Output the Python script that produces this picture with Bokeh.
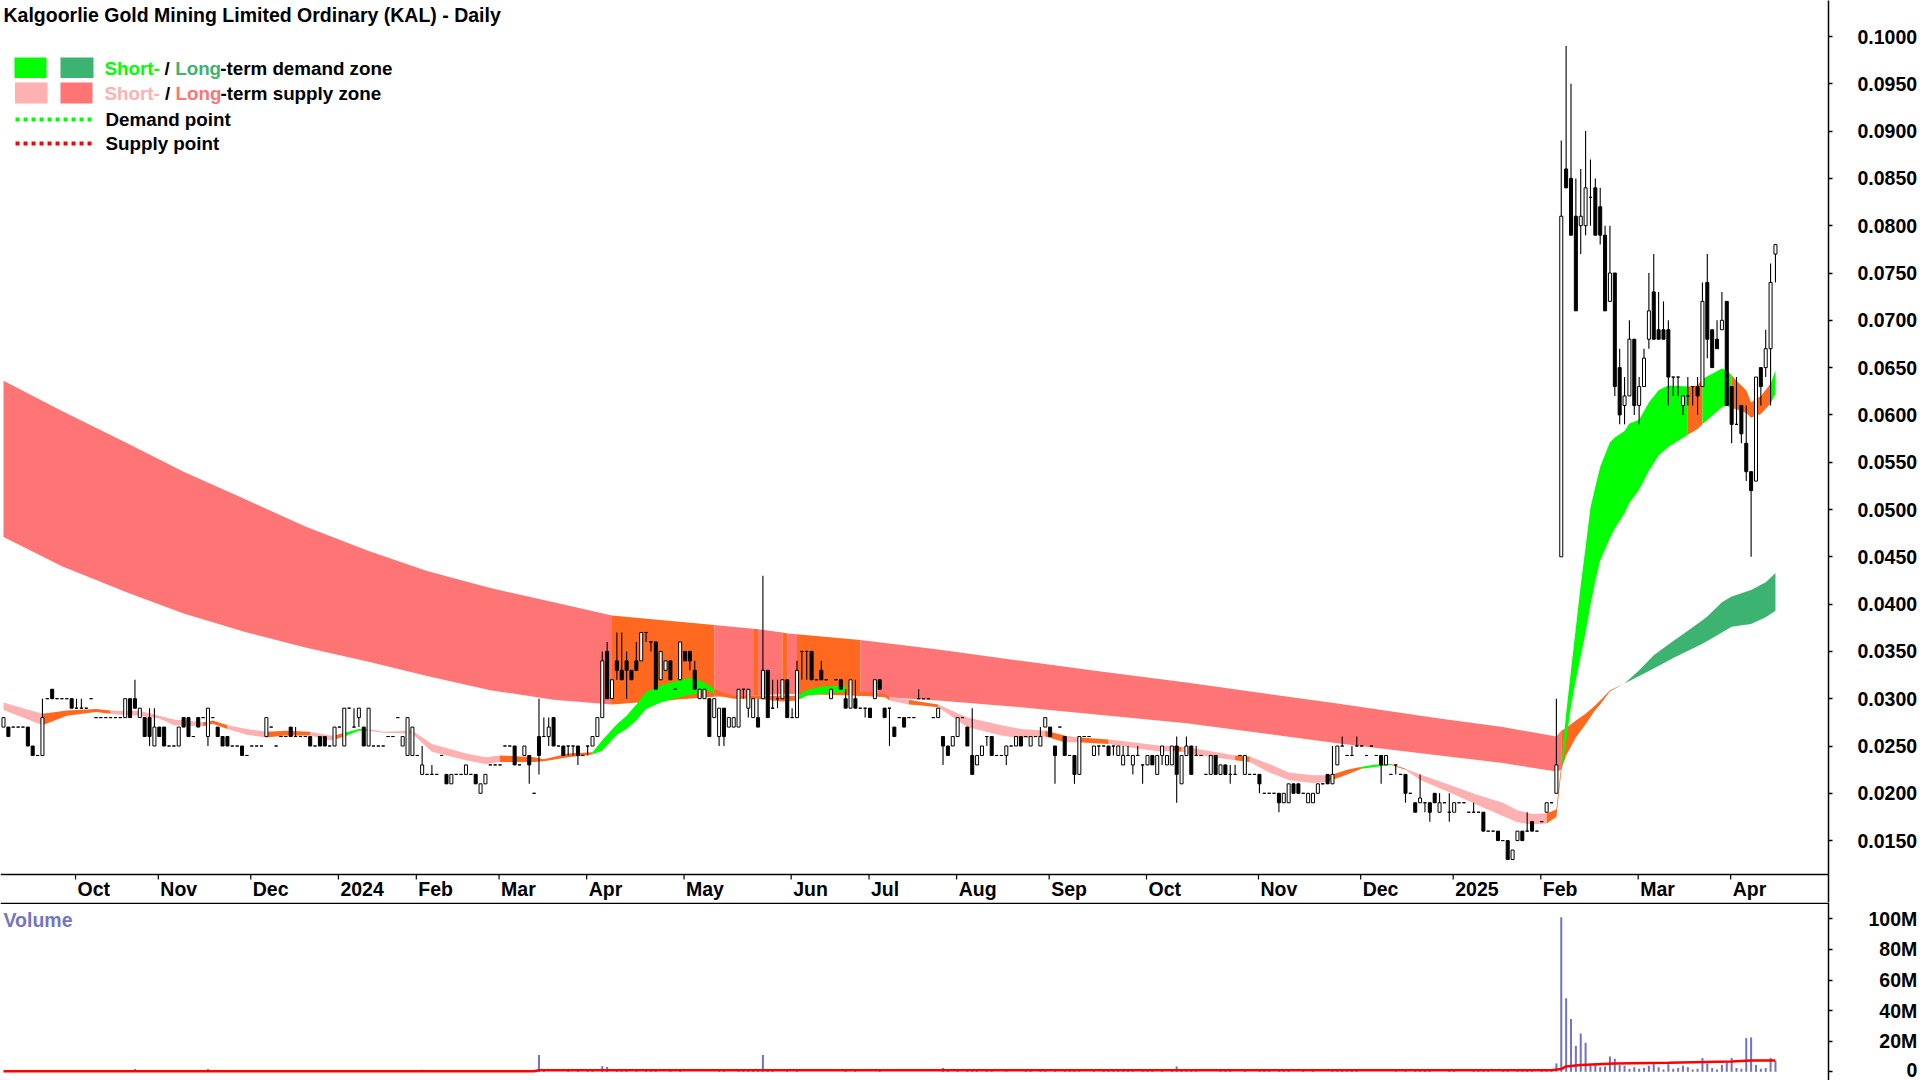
from bokeh.core.properties import value
from bokeh.embed import file_html
from bokeh.layouts import column
from bokeh.models import (BoxAnnotation, ColumnDataSource, FixedTicker, Label, LabelSet,
                          NumeralTickFormatter, Range1d, Span)
from bokeh.plotting import figure
from bokeh.resources import INLINE

TITLE = "Kalgoorlie Gold Mining Limited Ordinary (KAL) - Daily"

# Daily bars, prices in tenths of a cent (27 = $0.027)
opens = [
 27,27,27,27,27,27,25,24,24,30,
 31,30,30,30,30,29,29,29,30,28,
 28,28,28,28,28,28,30,30,28,28,
 28,25,27,27,25,25,25,28,28,26,
 28,28,26,28,27,26,26,25,25,25,
 24,25,25,25,26,27,25,26,26,27,
 26,26,26,26,25,26,26,25,25,27,
 25,29,27,28,27,25,25,25,25,26,
 26,28,25,24,24,24,22,22,22,22,
 24,22,21,22,22,22,22,22,20,21,
 23,23,23,25,25,25,23,24,24,20,
 26,26,26,28,25,25,25,25,25,24,
 25,25,26,28,35,30,34,33,34,33,
 34,34,37,36,36,32,33,34,31,32,
 35,35,33,30,30,30,28,26,29,27,
 27,27,31,29,28,28,30,33,29,30,
 30,32,28,28,35,35,35,32,33,32,
 30,32,32,30,29,30,29,29,29,30,
 32,29,29,27,28,28,28,28,30,30,
 30,28,28,26,25,25,26,28,27,24,
 23,24,26,26,24,24,24,25,25,26,
 26,25,26,25,27,27,25,27,26,24,
 24,22,26,26,24,25,25,25,25,24,
 23,24,23,24,23,23,24,22,24,23,
 23,25,21,24,25,24,24,22,22,24,
 22,23,22,22,24,22,22,22,22,20,
 20,20,20,19,19,21,21,20,19,19,
 20,21,22,21,23,25,24,24,25,25,
 24,25,24,24,23,22,23,22,22,20,
 19,19,19,19,20,18,19,18,18,19,
 19,18,18,18,18,16,16,16,15,15,
 13,15,16,16,17,16,17,18,19,20,
 45,86,85,81,80,80,83,84,82,79,
 72,75,65,61,62,68,61,63,68,73,
 69,69,69,64,64,61,62,63,63,63,
 74,69,68,69,72,63,59,61,57,54,
 53,65,65,67,77,
]
closes = [
 28,26,27,27,27,25,24,24,28,30,
 30,30,30,30,29,29,29,29,30,28,
 28,28,28,28,28,30,28,29,29,26,
 26,27,26,25,25,25,27,27,26,26,
 27,28,29,28,26,25,25,25,25,24,
 24,25,25,25,28,27,25,26,26,26,
 26,26,26,25,25,25,25,25,27,27,
 29,29,27,29,25,29,25,25,25,26,
 26,28,26,28,27,24,23,22,22,22,
 24,21,22,22,22,23,22,21,21,22,
 23,23,23,25,25,23,23,25,23,20,
 24,26,27,25,25,24,25,25,24,24,
 25,26,28,34,30,32,33,32,33,32,
 33,37,37,36,31,35,34,32,31,36,
 34,34,31,31,31,26,30,29,26,28,
 28,31,31,31,30,27,33,28,29,30,
 32,28,28,33,35,35,32,32,32,32,
 31,32,31,29,32,29,29,29,28,32,
 31,28,29,26,28,27,28,28,30,30,
 30,28,29,25,24,26,28,28,25,22,
 24,25,26,24,24,24,25,25,26,25,
 26,26,26,26,28,26,24,27,24,24,
 22,26,26,26,25,25,25,24,25,25,
 24,24,24,24,23,24,23,24,25,24,
 25,22,24,25,22,24,24,22,24,22,
 23,22,22,22,24,24,22,22,21,20,
 20,20,19,20,21,20,20,20,20,20,
 21,21,21,22,25,25,24,24,25,25,
 24,25,24,23,24,22,23,22,20,20,
 18,19.5,19,18,19,19,19,18,19,19,
 19,18,18,18,16,16,16,15,15,13,
 14,16,15,16,16,16,17,19,19,23,
 81,84,79,71,81,84,83,79,79,71,
 75,63,60,62,68,61,63,66,71,68,
 68,68,64,64,64,62,62,63,62,72,
 68,65,67,70,61,59,59,58,54,52,
 64,63,67,74,78,
]
# Wick ends that reach past the body, by bar number
high_wicks = {
 8:30,15:30,16:30,27:32,30:29,31:29,60:27,72:29,86:25,88:23,110:30,111:28,112:28,123:35,124:36,
 126:37,127:37,128:35,130:36,142:34,155:30,156:43,158:32,159:32,162:29,163:34,168:34,173:31,175:32,
 188:31,199:29,213:27,230:25,231:25,233:25,241:26,243:26,245:25,252:23,253:23,273:25,275:26,277:25,
 278:26,291:22,295:20,297:20,302:19,313:18,319:30,320:89,321:99,322:95,323:85,324:86,325:90,326:87,
 327:85,328:84,329:80,330:80,332:67,333:64,334:70,336:64,337:67,338:75,339:77,340:73,341:72,342:70,
 346:64,348:64,349:74,350:77,352:70,353:73,356:64,358:61,362:69,363:76,
}
low_wicks = {
 30:25,42:25,73:27,108:21,110:22,112:25,116:24,117:24,118:23,120:24,126:32,128:30,132:36,133:35,
 141:33,147:25,148:25,152:30,153:28,159:29,164:32,165:32,177:28,182:25,193:23,202:25,206:23,216:21,
 220:21,225:24,228:24,232:22,234:21,238:23,241:19,252:21,258:20,262:18,283:21,286:22,288:19,292:18,
 293:17,297:17,324:77,325:79,326:80,328:78,331:62,332:59,333:59,335:60,336:59,338:67,342:61,343:62,
 344:62,345:60,346:61,347:61,348:60,350:66,355:57,356:59,357:57,358:53,359:45,361:61,362:64,363:61,364:74,
}

# Long-term zone outline: bar number, upper and lower edge (tenths of a cent)
long_bars = [0,12,25,37,50,62,75,87,100,113,125,146,154,155,160,161,163,176,192,209,225,243,274,295,308,319,320,321,323,325,327,328,330,333,336,339,343,345,349,350,353,355,359,362,364]
long_top = [63.6,60.4,57.1,54,51,48.2,45.6,43.5,41.7,40.2,38.8,37.8,37.4,37.35,37,36.9,36.8,36.2,35.2,34,32.9,31.7,29.5,27.9,27,26,26.6,26.9,27.7,28.4,29.3,29.8,30.9,31.6,33,34.6,36.1,36.8,38.3,38.7,40.2,40.8,41.5,42.3,43.3]
long_bot = [47.1,44,41.3,39,37,35.4,33.9,32.4,30.9,29.9,29.4,30.2,30.3,30.3,30.5,30.5,30.5,30.3,29.8,29.1,28.3,27.4,25.3,24,23.2,22.3,22.5,24,25.9,27.3,28.8,29.4,30.8,31.6,32.4,33.2,34.3,34.8,35.8,36.1,37,37.6,37.9,38.6,39.3]
long_states = [(0,125,"supply"),(125,146,"overlap"),(146,154,"supply"),(154,155,"overlap"),(155,160,"supply"),(160,161,"overlap"),(161,163,"supply"),(163,176,"overlap"),(176,320,"supply"),(320,333,"overlap"),(333,364,"demand")]

# Short-term zone outline
short_bars = [0,4,8,13,19,22,24,28,32,35,41,43,46,50,54,58,63,67,68,70,73,75,78,84,88,95,99,102,106,109,111,116,121,123,126,128,130,132,135,140,142,145,146,150,155,160,163,165,168,173,175,177,181,182,186,188,192,198,205,209,214,218,221,224,227,232,238,240,242,243,253,256,260,264,269,272,273,276,279,282,285,288,291,297,303,308,311,314,317,319,320,321,322,323,324,325,326,327,328,330,331,333,334,336,338,340,342,346,348,349,353,354,355,356,358,359,361,363,364]
short_top = [29.6,29,28.4,28.76,28.9,28.76,28.7,28.7,28.2,27.8,27.5,27.7,27.2,26.8,26.5,26.6,26.5,26.1,26.1,26.4,26.8,26.8,26.5,26.6,25.2,24.2,23.8,24,23.9,23.8,23.6,24.2,24.35,25.6,27.3,28.2,29.4,30.7,31.4,32.1,32.2,31.4,31,30.3,30.3,30.3,30.3,30.9,31.3,31.4,30.6,30.7,30.5,30.2,29.9,29.7,29.4,28,27.2,26.8,26.6,26.1,25.9,25.8,25.7,25.4,25,25,24.9,24.9,24,23.9,23.1,22.2,21.9,21.9,22,22.5,22.8,23.05,23.1,22.6,22,20.9,19.8,19,18.2,17.8,17.9,18.3,23,28.4,33,37.5,42,46,50.2,52.4,54.5,57.1,57.6,58.3,59.1,59.5,61.3,62.6,63.1,63,63.1,63.8,64.9,64.7,64.2,63.6,62.6,61.3,62,63.3,64.7]
short_bot = [28.8,28,27.2,28.2,28.6,28.4,28.3,28.2,27.9,27.2,27.1,27.35,26.8,26.2,25.9,26.1,26.1,25.6,25.7,26,26.6,26.6,26.4,26.3,24.4,23.5,23.1,23.3,23.3,23.3,23.4,23.8,24.1,24.5,26.2,26.8,27.7,28.9,29.6,30.3,30.5,30.9,30.4,30,30,29.7,29.8,30.3,30.5,30.7,30.3,30.3,30.2,29.8,29.4,29.3,29.1,27,26.1,25.8,26,25.4,25.4,25.3,25.2,24.8,24.4,24.5,24.4,24.2,23.5,23.3,22.2,21.4,21.1,21.2,21.4,22,22.6,22.8,23,22.5,21.4,20.1,18.7,17.6,16.95,16.7,16.8,17.5,22.3,25.5,29.2,32,34.5,37,39.9,42.5,44.6,47,48,49.6,50.7,52.1,54.1,55.7,56.6,57.9,58.5,59,60.8,61,60.7,60.6,60.2,59.7,60.1,61.2,62.2]
short_states = [(0,8,"supply"),(8,22,"overlap"),(22,41,"supply"),(41,46,"overlap"),(46,54,"supply"),(54,63,"overlap"),(63,68,"supply"),(68,70,"overlap"),(70,75,"demand"),(75,102,"supply"),(102,121,"overlap"),(121,146,"demand"),(146,163,"overlap"),(163,173,"demand"),(173,182,"overlap"),(182,186,"supply"),(186,192,"overlap"),(192,214,"supply"),(214,218,"overlap"),(218,221,"supply"),(221,227,"overlap"),(227,240,"supply"),(240,242,"overlap"),(242,253,"supply"),(253,256,"overlap"),(256,272,"supply"),(272,279,"overlap"),(279,285,"demand"),(285,288,"overlap"),(288,317,"supply"),(317,320,"overlap"),(320,346,"demand"),(346,349,"overlap"),(349,355,"demand"),(355,363,"overlap"),(363,364,"demand")]

# Volume in millions, for the bars that rise clear of the average line
volume_bars = [4,5,8,13,27,28,30,31,42,44,45,48,54,59,63,68,86,91,107,109,110,111,116,118,120,121,123,124,126,127,128,130,132,133,134,137,139,147,148,151,152,153,154,155,156,157,158,161,163,173,175,180,193,194,196,198,199,200,202,203,206,210,211,213,214,216,218,219,220,221,224,226,227,228,229,230,231,232,234,235,236,238,240,241,242,243,244,245,250,251,252,255,258,259,260,262,263,264,267,269,273,274,275,276,277,278,286,288,290,291,292,293,297,298,302,303,304,305,308,309,311,312,313,314,316,317,318,319,320,321,322,323,324,325,326,327,328,329,330,331,332,333,334,335,336,337,338,339,340,341,342,343,344,345,346,347,348,349,350,351,352,353,354,355,356,357,358,359,360,361,362,363,364]
volume_m = [.8,.8,.8,1,1.8,.8,.8,1,1.8,.8,.8,.8,1,.8,.8,1,1.3,.8,.8,.6,11,1.7,1,1,1,1.3,3.7,3.2,1,1,1,1,1.2,1,1.3,1,1,1,1,1,1,1.8,1,1.2,11,1.3,1,1,1,.8,.8,.8,2.5,.8,.8,.8,1.2,.8,.8,.8,.8,.8,1.2,1,.8,1,.8,.8,1.2,1.8,.8,1.2,.9,1.2,1.2,.8,.8,.8,1.1,.8,.8,1,.8,3.5,1.2,1.2,.8,1.2,.8,.8,.8,.8,.8,.8,.8,1.2,.8,.8,.8,.8,1,.8,1.6,.8,.8,.8,.8,1.6,.8,.8,.8,.8,1.2,.8,.8,.8,1.2,1.2,1.2,1.2,1.2,.8,1.2,1.8,1.6,.8,.8,5.5,101,48,34.5,17,25,19,5,5.5,3,3.5,10,8.5,4.5,4,2,3,2,2.5,4,5,3,1.5,5,2,2.5,4,3,1.5,2,9,5.5,2.5,1.5,4.5,6,9,2.5,2,22,22.5,4.5,2,2.5,9,7]
average_bars = [0,109,110,318,320,321,324,331,342,355,359,364]
average_m = [.4,.4,1,1,1.8,3.5,4.5,5.5,5.9,6.7,7.4,7.4]

price_ticks = [0.015,0.02,0.025,0.03,0.035,0.04,0.045,0.05,0.055,0.06,0.065,0.07,0.075,0.08,0.085,0.09,0.095,0.1]
volume_ticks = [0,20,40,60,80,100]
volume_tick_labels = ["0","20M","40M","60M","80M","100M"]
month_bars = [15,32,51,69,85,102,120,140,162,178,196,215,235,258,279,298,316,336,355]
month_labels = ["Oct","Nov","Dec","2024","Feb","Mar","Apr","May","Jun","Jul","Aug","Sep","Oct","Nov","Dec","2025","Feb","Mar","Apr"]

# ---- style / layout
FONT = "Liberation Sans"
SIZE = "19.5px"
RED, PINK, GREEN, SEA, ORANGE = "#FF7575", "#FFB0B0", "#00FF00", "#3CB371", "#FF681F"
VOL = "#7474C4"
LONG_COL = {"supply": RED, "overlap": ORANGE, "demand": SEA}
SHORT_COL = {"supply": PINK, "overlap": ORANGE, "demand": GREEN}
STEP = 4.868          # pixels per bar
FIRST = 3.0           # pixel of bar 0
AXIS_X = 1828
PANEL_H = 902
MIL = 0.001

def x_at(px):
    return (px - FIRST) / STEP

def y_at(py):  # pixel row -> price
    return (100 - (py - 36) / 9.46) * MIL

x_range = Range1d(x_at(0), x_at(AXIS_X))
p = figure(width=1920, height=PANEL_H, x_range=x_range, y_range=Range1d(y_at(PANEL_H), y_at(0)),
           output_backend="svg", toolbar_location=None, x_axis_location=None, y_axis_location="right",
           min_border_left=0, min_border_top=0, min_border_bottom=0, min_border_right=92,
           outline_line_color=None, background_fill_color="white", border_fill_color="white")
p.grid.visible = False
ax = p.yaxis[0]
ax.ticker = FixedTicker(ticks=price_ticks)
ax.formatter = NumeralTickFormatter(format="0.0000")
ax.major_tick_in, ax.major_tick_out = 0, 4
ax.minor_tick_line_color = None
ax.major_label_standoff = 25
ax.axis_line_width = 1.5
ax.major_tick_line_width = 1.5
ax.major_label_text_font = FONT
ax.major_label_text_font_style = "bold"
ax.major_label_text_font_size = SIZE
ax.major_label_text_color = "black"

def draw_zone(bars, top, bot, states, cols):
    for start, end, state in states:
        keep = [i for i, b in enumerate(bars) if start <= b <= end]
        p.varea(x=[bars[i] for i in keep], y1=[top[i] * MIL for i in keep], y2=[bot[i] * MIL for i in keep],
                fill_color=cols[state])

draw_zone(long_bars, long_top, long_bot, long_states, LONG_COL)
draw_zone(short_bars, short_top, short_bot, short_states, SHORT_COL)

bars = list(range(len(opens)))
body_top = [max(o, c) * MIL for o, c in zip(opens, closes)]
body_bot = [min(o, c) * MIL for o, c in zip(opens, closes)]
wick_top = [high_wicks.get(i, max(o, c)) * MIL for i, (o, c) in enumerate(zip(opens, closes))]
wick_bot = [low_wicks.get(i, min(o, c)) * MIL for i, (o, c) in enumerate(zip(opens, closes))]
fills = ["black" if c < o else "white" for o, c in zip(opens, closes)]
src = ColumnDataSource(dict(x=bars, t=body_top, b=body_bot, h=wick_top, l=wick_bot, f=fills))
p.segment(x0="x", x1="x", y0="l", y1="h", source=src, line_color="black", line_width=1.1)
p.vbar(x="x", width=0.62, top="t", bottom="b", source=src, fill_color="f", line_color="black", line_width=1)

# month axis line, ticks and names in the band beneath it
ticks_at = [m - 0.2 for m in month_bars]
p.add_layout(Span(location=y_at(874), dimension="width", line_color="black", line_width=1.5))
p.segment(x0=ticks_at, x1=ticks_at, y0=[y_at(874)] * len(ticks_at), y1=[y_at(879)] * len(ticks_at),
          line_color="black", line_width=1.2)
p.add_layout(LabelSet(x="x", y="y", text="t", x_offset=2, text_align="left", text_baseline="middle",
                      source=ColumnDataSource(dict(x=ticks_at, y=[y_at(888)] * len(ticks_at), t=month_labels)),
                      text_font=value(FONT), text_font_style="bold", text_font_size=SIZE, text_color="black"))

def text(fig_x, fig_y, s, color="black", size=SIZE):
    p.add_layout(Label(x=x_at(fig_x), y=y_at(fig_y), text=s, text_color=color, text_font=FONT, text_font_style="bold",
                       text_font_size=size, text_align="left", text_baseline="middle"))

def swatch(l, r, t, b, color):
    p.quad(left=x_at(l), right=x_at(r), top=y_at(t), bottom=y_at(b), fill_color=color, line_color=None)

text(3, 14, TITLE)
swatch(14, 46, 57, 77.5, GREEN); swatch(60, 93, 57, 77.5, SEA)
swatch(14.5, 47, 82, 103, PINK); swatch(60, 92, 82, 103, RED)
LEG = "18.8px"
text(104, 68, "Short-", GREEN, LEG); text(164, 68, "/", "black", LEG); text(174.7, 68, "Long", SEA, LEG)
text(219.7, 68, "-term demand zone", "black", LEG)
text(104, 93, "Short-", PINK, LEG); text(164.5, 93, "/", "black", LEG); text(175, 93, "Long", RED, LEG)
text(220, 93, "-term supply zone", "black", LEG)
text(105, 119, "Demand point", "black", LEG); text(105, 143, "Supply point", "black", LEG)
p.line(x=[x_at(15), x_at(92)], y=[y_at(119)] * 2, line_color=GREEN, line_width=4, line_dash=[4, 4])
p.line(x=[x_at(15), x_at(92)], y=[y_at(143)] * 2, line_color="#FF0000", line_width=4, line_dash=[4, 4])

# ---- volume panel
VH = 178
def v_at(py):  # page row -> millions
    return (1071.3 - py) / 1.53

# the axis sets labels flush left; spaces of digit width keep them flush right as in the reference
RIGHT_PAD = {"0": "\u2007\u2007\u2007\u2008", "20M": "\u2007", "40M": "\u2007", "60M": "\u2007", "80M": "\u2007", "100M": ""}

v = figure(width=1920, height=VH, x_range=x_range, y_range=Range1d(v_at(1080), v_at(PANEL_H)),
           output_backend="svg", toolbar_location=None, x_axis_location=None, y_axis_location="right",
           min_border_left=0, min_border_top=0, min_border_bottom=0, min_border_right=92,
           outline_line_color=None, background_fill_color="white", border_fill_color="white")
v.grid.visible = False
vx = v.yaxis[0]
vx.ticker = FixedTicker(ticks=volume_ticks)
vx.major_label_overrides = {t: RIGHT_PAD[s] + s for t, s in zip(volume_ticks, volume_tick_labels)}
vx.major_tick_in, vx.major_tick_out = 0, 4
vx.minor_tick_line_color = None
vx.major_label_standoff = 36
vx.major_label_text_font = FONT
vx.major_label_text_font_style = "bold"
vx.major_label_text_font_size = SIZE
vx.major_label_text_color = "black"
vx.axis_line_width = 1.5
vx.major_tick_line_width = 1.5
v.vbar(x=volume_bars, width=0.42, top=volume_m, bottom=0, fill_color=VOL, line_color=None)
v.line(x=average_bars, y=average_m, line_color="#FF0000", line_width=2.5)
v.add_layout(Label(x=x_at(3), y=v_at(919), text="Volume", text_color=VOL, text_font=FONT, text_font_style="bold",
                   text_font_size=SIZE, text_align="left", text_baseline="middle"))
v.add_layout(BoxAnnotation(left=0, right=1920, top=0, bottom=1.5, left_units="canvas", right_units="canvas",
                           top_units="canvas", bottom_units="canvas", fill_color="black", fill_alpha=1, line_color=None))

layout = column(p, v, spacing=0)
open("out.html", "w").write(file_html(layout, INLINE))
